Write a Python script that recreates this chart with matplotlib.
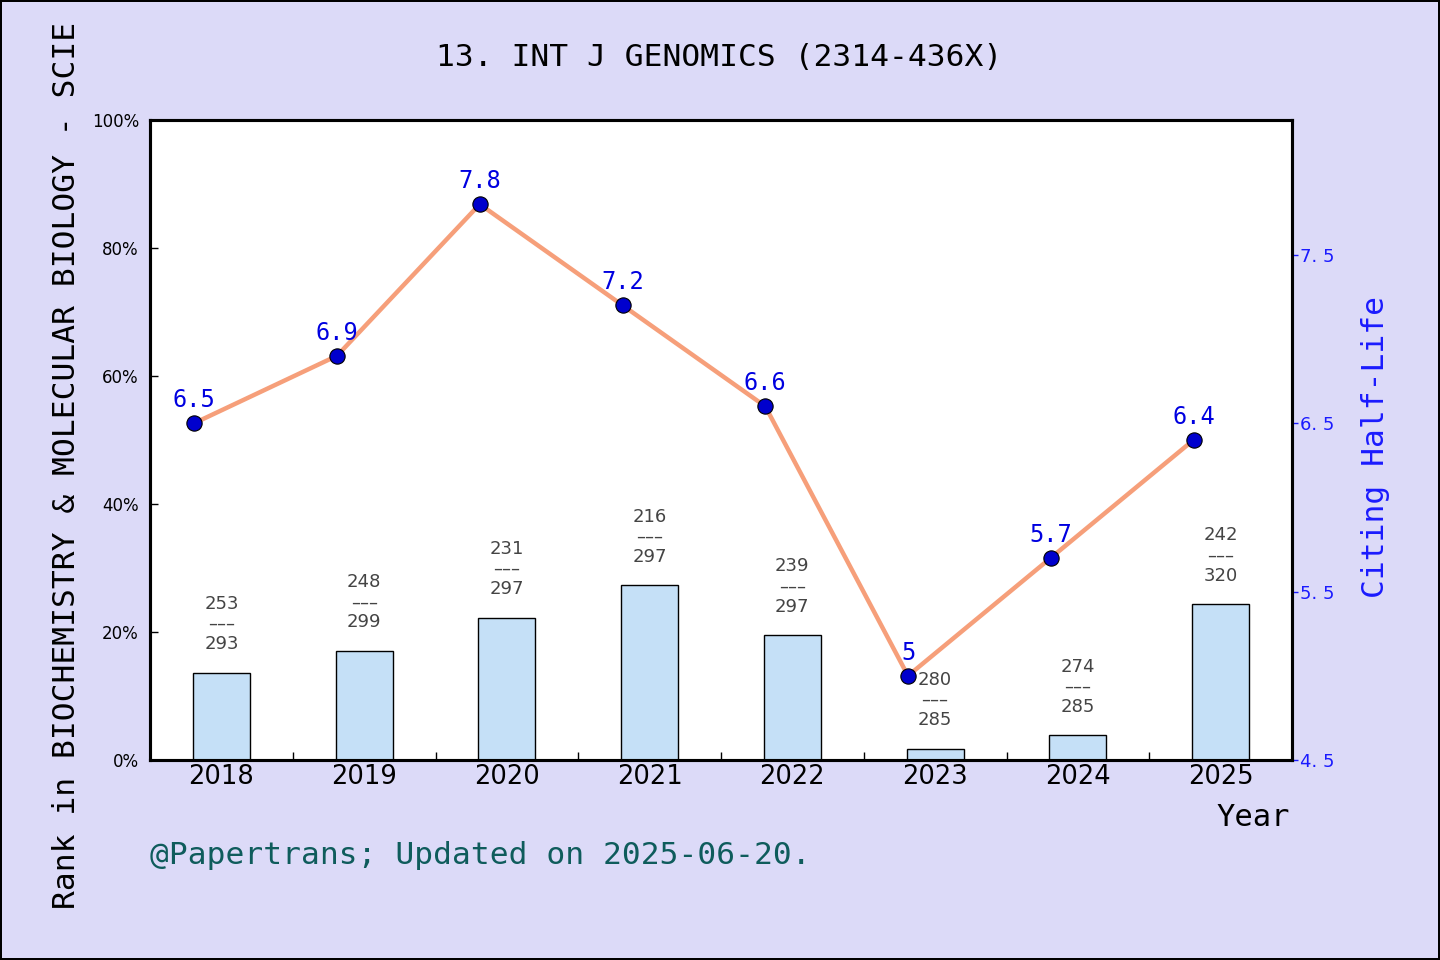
import numpy as np
import matplotlib
matplotlib.use("Agg")
from matplotlib import pyplot as plt
from matplotlib.ticker import FixedLocator, PercentFormatter

years = [2018, 2019, 2020, 2021, 2022, 2023, 2024, 2025]
ranks = [253, 248, 231, 216, 239, 280, 274, 242]
totals = [293, 299, 297, 297, 297, 285, 285, 320]
half_life = [6.5, 6.9, 7.8, 7.2, 6.6, 5.0, 5.7, 6.4]

title = "13. INT J GENOMICS (2314-436X)"
left_label = "Rank in BIOCHEMISTRY & MOLECULAR BIOLOGY - SCIE"
right_label = "Citing Half-Life"
footer = "@Papertrans; Updated on 2025-06-20."

mono = "DejaVu Sans Mono"
bg = "#dcdaf8"

x = np.arange(len(years))
pct = [1 - r / t for r, t in zip(ranks, totals)]

fig = plt.figure(figsize=(14.4, 9.6), dpi=100, facecolor=bg, edgecolor="black", linewidth=1.5)
ax = fig.add_axes([150 / 1440, 1 - 760 / 960, 1142 / 1440, 640 / 960])
ax.set_facecolor("white")

ax.bar(x, pct, width=0.4, color="#c5e0f7", edgecolor="black", linewidth=1, zorder=2)
for i in range(len(x)):
    ax.annotate("%d\n\u2013\u2013\u2013\n%d" % (ranks[i], totals[i]), (x[i], pct[i]), xytext=(0, 14),
                textcoords="offset points", ha="center", va="bottom", fontsize=13,
                color="#444444", linespacing=1.15, family="DejaVu Sans")

ax.set_xlim(-0.5, len(years) - 0.5)
ax.set_ylim(0, 1)
ax.yaxis.set_major_locator(FixedLocator([0, 0.2, 0.4, 0.6, 0.8, 1.0]))
ax.yaxis.set_major_formatter(PercentFormatter(1.0, decimals=0))
ax.tick_params(axis="y", direction="in", length=6, width=1, labelsize=12, pad=8)
ax.set_xticks(x)
ax.set_xticklabels([str(y) for y in years])
ax.set_xticks(x[:-1] + 0.5, minor=True)
ax.tick_params(axis="x", which="major", length=0, labelsize=18.5, pad=3)
ax.tick_params(axis="x", which="minor", direction="in", length=6, width=1)
for s in ax.spines.values():
    s.set_linewidth(2.2)

ax2 = ax.twinx()
ax2.plot(x - 0.19, half_life, color="#f69f7a", linewidth=3.2, marker="o", markersize=11,
         markerfacecolor="#0000cd", markeredgecolor="black", markeredgewidth=0.8, zorder=3)
for i in range(len(x)):
    ax2.annotate("%g" % half_life[i], (x[i] - 0.19, half_life[i]), xytext=(0, 8),
                 textcoords="offset points", ha="center", va="bottom", fontsize=17,
                 color="#0000e0", family=mono)
ax2.set_ylim(4.5, 8.3)
ax2.set_yticks([4.5, 5.5, 6.5, 7.5])
ax2.set_yticklabels(["4. 5", "5. 5", "6. 5", "7. 5"])
ax2.tick_params(axis="y", direction="out", length=4, width=1, colors="#1a1aff", labelsize=13, pad=2)
for s in ax2.spines.values():
    s.set_linewidth(2.2)

fig.text(719 / 1440, 1 - 57 / 960, title, ha="center", va="center", fontsize=22.5, family=mono)
fig.text(67 / 1440, 1 - 465 / 960, left_label, ha="center", va="center", rotation=90,
         fontsize=22.5, family=mono)
fig.text(1375 / 1440, 1 - 447 / 960, right_label, ha="center", va="center", rotation=90,
         fontsize=22.5, family=mono, color="#1a1aff")
fig.text(1290 / 1440, 1 - 817 / 960, "Year", ha="right", va="center", fontsize=22, family=mono)
fig.text(150 / 1440, 1 - 855 / 960, footer, ha="left", va="center", fontsize=22.5, family=mono,
         color="#0f5c5c")

fig.savefig("out.png", dpi=100, facecolor=bg, edgecolor="black")
